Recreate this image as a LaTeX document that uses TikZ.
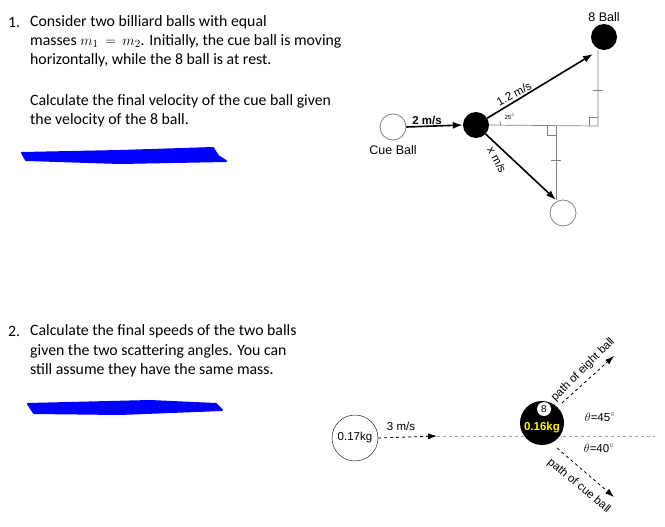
\documentclass[tikz,border=0pt]{standalone}
\usepackage{fontspec}
\setmainfont{Carlito}
\newfontfamily\labelfont{Liberation Sans}
\usetikzlibrary{arrows.meta}
\begin{document}
\begin{tikzpicture}[x=1pt,y=-1pt,
    txt/.style={anchor=west,inner sep=0pt,font=\fontsize{15.8}{18}\selectfont},
    lbl/.style={inner sep=0pt,font=\labelfont\fontsize{11.5}{13}\selectfont},
    graybal/.style={circle,draw=gray,thick,minimum size=26pt,inner sep=0pt},
    blackbal/.style={circle,fill=black,minimum size=26pt,inner sep=0pt},
    velo/.style={line width=1.6pt,-{Latex[length=10pt,width=7pt]}},
    guide/.style={gray,line width=0.7pt},
    path/.style={dashed,thick,-{Latex[length=9pt,width=6pt]}},
    scribble/.style={fill=blue,draw=blue,line width=2pt,line join=round}]
\useasboundingbox (0,0) rectangle (665,527);
% question 1
\node[txt] (n1) at (8,22) {1.};
\node[txt] (l1) at (30,22) {Consider two billiard balls with equal};
\node[txt] (l2) at (30,41) {masses $m_1\,=\,m_2$. Initially, the cue ball is moving};
\node[txt] (l3) at (30,60) {horizontally, while the 8 ball is at rest.};
\node[txt] (l4) at (30,101) {Calculate the final velocity of the cue ball given};
\node[txt] (l5) at (30,120) {the velocity of the 8 ball.};
\draw[scribble] (22,153) -- (120,151) -- (213,148) -- (218,156) -- (226,161) -- (120,163) -- (26,160) -- cycle;
% question 2
\node[txt] (n2) at (8,331) {2.};
\node[txt] (m1) at (30,331) {Calculate the final speeds of the two balls};
\node[txt] (m2) at (30,351) {given the two scattering angles. You can};
\node[txt] (m3) at (30,370) {still assume they have the same mass.};
\draw[scribble] (28,404) -- (150,401) -- (216,404) -- (222,410) -- (120,414) -- (34,413) -- cycle;
% first diagram
\node[graybal] (cue) at (393,127) {};
\node[lbl,font=\labelfont\fontsize{12.5}{14}\selectfont] (cuelbl) at (393,150) {Cue Ball};
\node[blackbal] (hit) at (476,125) {};
\node[blackbal] (eight) at (604,37) {};
\node[lbl,font=\labelfont\fontsize{12.5}{14}\selectfont] (eightlbl) at (604,17) {8 Ball};
\node[graybal] (cueout) at (563,213) {};
\coordinate (c1) at (598,126);
\coordinate (c2) at (556,126);
\draw[guide] (hit.east) -- (c1) -- (eight.south -| c1);
\draw[guide] (c2) -- (cueout.north -| c2);
\draw[guide] (c1) ++(-9,0) -- ++(0,-9) -- ++(9,0);
\draw[guide] (c2) ++(-9,0) -- ++(0,9) -- ++(9,0);
\draw[guide] (593,90) -- (603,90);
\draw[guide] (551,160) -- (561,160);
\draw[guide] (489,126) ++(12,0) arc (0:-25:12);
\node[lbl,font=\labelfont\fontsize{6}{7}\selectfont] (ang) at (510,117) {25$^\circ$};
\draw[velo] (cue.east) -- (hit.west);
\node[lbl] (v0) at (427,120) {\textbf{2 m/s}};
\draw[velo] (hit) -- (593,54);
\node[lbl,rotate=28] (v8) at (514,94) {1.2 m/s};
\draw[velo] (hit) -- (556,200);
\node[lbl,rotate=-62] (vx) at (497,160) {x m/s};
% second diagram
\coordinate (inc) at (437,436);
\coordinate (far) at (655,436);
\draw[gray!70,dashed] (inc) -- (far);
\node[circle,draw,fill=white,minimum size=46pt,inner sep=0pt,font=\labelfont\fontsize{11.5}{13}\selectfont] (small) at (355,438) {0.17kg};
\node[circle,fill=black,minimum size=44pt,inner sep=0pt] (big) at (542,423) {};
\node[circle,fill=white,minimum size=14pt,inner sep=0pt,font=\labelfont\fontsize{10}{11}\selectfont] (num) at (544,409) {8};
\node[lbl,yellow,font=\labelfont\bfseries\fontsize{11.5}{13}\selectfont] (bigm) at (542,428) {0.16kg};
\draw[path] (small.east) -- (inc);
\node[lbl] (v3) at (401,426) {3 m/s};
\draw[path] (562,403) -- (614,356);
\node[lbl,rotate=45] (p8) at (583,370) {path of eight ball};
\draw[path] (557,448) -- (614,497);
\node[lbl,rotate=-40] (pc) at (579,486) {path of cue ball};
\node[lbl] (t45) at (600,417) {$\theta$=45$^\circ$};
\node[lbl] (t40) at (599,448) {$\theta$=40$^\circ$};
\end{tikzpicture}
\end{document}
